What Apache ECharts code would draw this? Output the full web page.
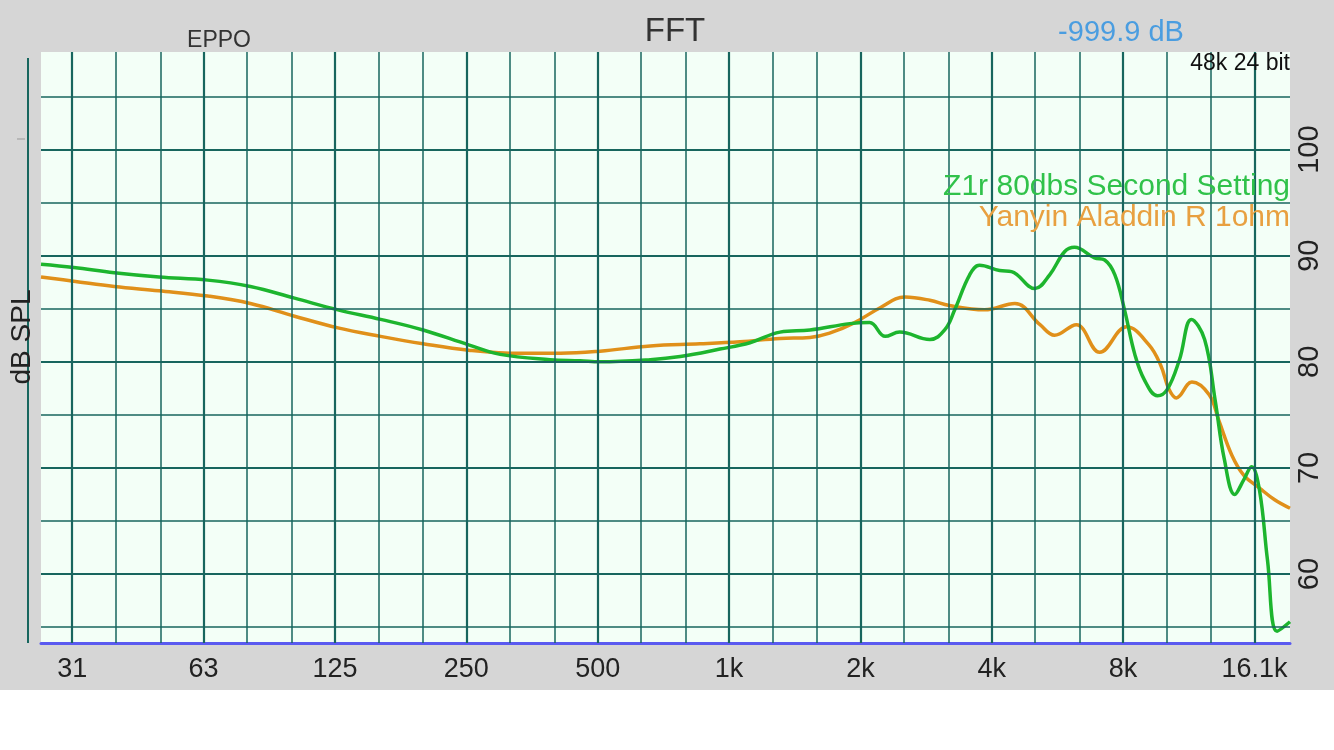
<!DOCTYPE html>
<html>
<head>
<meta charset="utf-8">
<script src="https://cdn.jsdelivr.net/npm/echarts@6/dist/echarts.min.js"></script>
<style>html,body{margin:0;padding:0;}#chart{width:1334px;height:750px;}</style>
</head>
<body>
<div id="chart"></div>
<script>
// frequency (Hz) and level (dB SPL)
var greenFreq = [26.5,31.5,39,49.4,63.9,80,101,127,159,199,253,299,389,456,506,660,773,953,1117,1309,1533,1892,2100,2280,2460,2885,3120,3290,3560,3750,4170,4440,5020,5430,5880,6190,6880,7260,7660,8060,8510,8950,9590,10100,10770,11470,12300,13000,13650,14420,15130,15750,16430,17140,18030,19300];
var greenDb = [89.2,88.9,88.4,88.0,87.7,87.1,86.0,84.9,84.0,83.0,81.6,80.7,80.2,80.1,80.0,80.2,80.5,81.2,81.8,82.8,83.0,83.6,83.7,82.4,82.8,82.1,83.0,84.9,88.2,89.1,88.6,88.5,86.9,88.2,90.4,90.8,89.8,89.6,88.2,84.9,80.7,78.3,76.8,77.4,80.2,84.0,82.1,76.4,70.8,67.5,68.9,70.1,67.9,61.3,54.6,55.5];
var orangeFreq = [26.5,31.5,39,49.4,63.9,80,101,127,159,199,253,333,411,506,660,858,1060,1309,1533,1700,1940,2220,2530,2885,3200,3850,4520,5160,5570,6250,7070,8150,9170,9750,10200,10600,11500,12600,13250,14200,15130,16430,17800,19300];
var orangeDb = [88.0,87.6,87.1,86.7,86.2,85.5,84.3,83.2,82.4,81.7,81.1,80.8,80.8,81.0,81.5,81.7,81.9,82.2,82.3,82.7,83.7,85.1,86.1,85.8,85.3,84.9,85.5,83.5,82.5,83.5,80.9,83.3,81.6,79.7,77.4,76.6,78.1,76.9,74.5,71.2,69.3,68.1,67.0,66.2];
var xTickOct = [-5,-4,-3,-2,-1,0,1,2,3,4];
var xTickLabels = ['31','63','125','250','500','1k','2k','4k','8k','16.1k'];
var yTicks = [60,70,80,90,100];

var gridColor = '#17665e';
function pairs(f, d) {
    return f.map(function (v, i) { return [Math.log2(v / 1000), d[i]]; });
}

// grid lines: every third octave, every 5 dB
var gridLines = [];
for (var k = -15; k <= 12; k++) {
    gridLines.push({xAxis: k / 3, lineStyle: {width: k % 3 === 0 ? 2.2 : 1.5}});
}
for (var db = 55; db <= 105; db += 5) {
    gridLines.push({yAxis: db, lineStyle: {width: db % 10 === 0 ? 2.2 : 1.5}});
}

var myChart = echarts.init(document.getElementById('chart'));
var option = {
    backgroundColor: '#d6d6d6',
    animation: false,
    graphic: [
        {type: 'rect', shape: {x: 0, y: 690, width: 1334, height: 60}, style: {fill: '#ffffff'}},
        {type: 'line', shape: {x1: 28, y1: 58, x2: 28, y2: 643}, style: {stroke: gridColor, lineWidth: 2}},
        {type: 'line', shape: {x1: 17, y1: 139, x2: 25, y2: 139}, style: {stroke: '#999', lineWidth: 1}},
        {type: 'text', rotation: Math.PI / 2, x: 22, y: 337, style: {text: 'dB SPL', fill: '#222', font: '28px Arial', align: 'center', verticalAlign: 'middle'}},
        {type: 'text', x: 1290, y: 64, style: {text: '48k 24 bit', fill: '#111', font: '23px Arial', align: 'right', verticalAlign: 'middle'}, z: 10},
        {type: 'text', x: 1290, y: 187, style: {text: 'Z1r 80dbs Second Setting', fill: '#30c24a', font: '30px Arial', align: 'right', verticalAlign: 'middle'}, z: 10},
        {type: 'text', x: 1290, y: 218, style: {text: 'Yanyin Aladdin R 1ohm', fill: '#e8a040', font: '30px Arial', align: 'right', verticalAlign: 'middle'}, z: 10}
    ],
    title: [
        {text: 'EPPO', left: 214, top: 36, textAlign: 'center', textVerticalAlign: 'middle', textStyle: {color: '#333', fontSize: 23, fontWeight: 'normal', fontFamily: 'Arial'}},
        {text: 'FFT', left: 670, top: 27, textAlign: 'center', textVerticalAlign: 'middle', textStyle: {color: '#333', fontSize: 33, fontWeight: 'normal', fontFamily: 'Arial'}},
        {text: '-999.9 dB', left: 1116, top: 28, textAlign: 'center', textVerticalAlign: 'middle', textStyle: {color: '#4a9de0', fontSize: 29, fontWeight: 'normal', fontFamily: 'Arial'}}
    ],
    grid: {left: 41, right: 44, top: 52, bottom: 107, show: true, backgroundColor: '#f3fff7', borderWidth: 0},
    xAxis: {
        type: 'value',
        min: Math.log2(26.5 / 1000),
        max: Math.log2(19300 / 1000),
        splitLine: {show: false},
        axisTick: {show: false},
        axisLine: {show: true, onZero: false, lineStyle: {color: '#5a5af0', width: 3}},
        axisLabel: {
            customValues: xTickOct,
            margin: 13,
            color: '#222',
            fontSize: 27,
            fontFamily: 'Arial',
            formatter: function (v) { return xTickLabels[xTickOct.indexOf(Math.round(v))]; }
        }
    },
    yAxis: {
        type: 'value',
        position: 'right',
        min: 53.5,
        max: 109.2,
        splitLine: {show: false},
        axisTick: {show: false},
        axisLine: {show: false},
        axisLabel: {customValues: yTicks, rotate: 90, margin: 5, color: '#222', fontSize: 29, fontFamily: 'Arial'}
    },
    series: [
        {
            type: 'line', data: [], silent: true,
            markLine: {silent: true, symbol: 'none', label: {show: false}, lineStyle: {color: gridColor, type: 'solid'}, data: gridLines}
        },
        {
            name: 'Yanyin Aladdin R 1ohm', type: 'line', smooth: 0.4, symbol: 'none',
            lineStyle: {color: '#e0901a', width: 3.5}, data: pairs(orangeFreq, orangeDb), z: 3
        },
        {
            name: 'Z1r 80dbs Second Setting', type: 'line', smooth: 0.4, symbol: 'none',
            lineStyle: {color: '#1db52e', width: 3.5}, data: pairs(greenFreq, greenDb), z: 4
        }
    ]
};
myChart.setOption(option);
</script>
</body>
</html>
